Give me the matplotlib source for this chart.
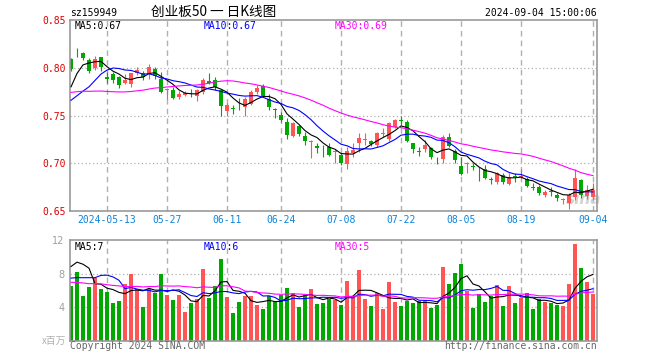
import matplotlib
matplotlib.use("Agg")
import matplotlib.pyplot as plt
import numpy as np
import pandas as pd

plt.rcParams['font.family'] = ['DejaVu Sans Mono']

code = "sz159949"
title = "创业板50 一 日K线图"
stamp = "2024-09-04 15:00:06"

# daily candles, 2024-04-30 .. 2024-09-04
opens = [0.809, 0.817, 0.815, 0.808, 0.800, 0.811, 0.790, 0.793, 0.7905, 0.784,
         0.783, 0.794, 0.794, 0.793, 0.799, 0.788, 0.777, 0.777, 0.769, 0.771,
         0.773, 0.770, 0.775, 0.786, 0.787, 0.777, 0.755, 0.757, 0.759, 0.759,
         0.7625, 0.775, 0.781, 0.767, 0.756, 0.750, 0.743, 0.7285, 0.739, 0.7285,
         0.722, 0.718, 0.715, 0.7165, 0.712, 0.7085, 0.699, 0.711, 0.7215, 0.7245,
         0.7235, 0.719, 0.731, 0.725, 0.7375, 0.745, 0.7435, 0.721, 0.7125, 0.7145,
         0.7155, 0.7035, 0.704, 0.728, 0.713, 0.697, 0.699, 0.6965, 0.693, 0.6945,
         0.683, 0.6805, 0.6875, 0.678, 0.686, 0.6855, 0.684, 0.675, 0.6755, 0.667,
         0.6705, 0.667, 0.662, 0.6585, 0.665, 0.6825, 0.6655, 0.665]
highs = [0.810, 0.821, 0.8165, 0.810, 0.812, 0.8115, 0.796, 0.796, 0.791, 0.7935,
         0.795, 0.801, 0.797, 0.8035, 0.801, 0.796, 0.7785, 0.780, 0.776, 0.776,
         0.778, 0.778, 0.789, 0.794, 0.7905, 0.778, 0.763, 0.761, 0.768, 0.769,
         0.777, 0.782, 0.783, 0.773, 0.7575, 0.754, 0.747, 0.7435, 0.740, 0.733,
         0.7245, 0.7215, 0.719, 0.7215, 0.7145, 0.7105, 0.7175, 0.7215, 0.7315, 0.7315,
         0.7245, 0.733, 0.7365, 0.7435, 0.746, 0.7495, 0.7455, 0.721, 0.7175, 0.7245,
         0.7165, 0.707, 0.7295, 0.7315, 0.7145, 0.707, 0.7015, 0.700, 0.6965, 0.698,
         0.686, 0.691, 0.690, 0.690, 0.6895, 0.6935, 0.686, 0.679, 0.677, 0.6725,
         0.675, 0.6685, 0.6635, 0.6685, 0.6935, 0.683, 0.677, 0.679]
lows = [0.797, 0.8115, 0.808, 0.795, 0.798, 0.797, 0.784, 0.784, 0.779, 0.7825,
        0.780, 0.7925, 0.787, 0.788, 0.788, 0.774, 0.767, 0.767, 0.767, 0.770,
        0.769, 0.7655, 0.773, 0.783, 0.777, 0.7495, 0.7495, 0.752, 0.756, 0.749,
        0.761, 0.773, 0.769, 0.756, 0.747, 0.743, 0.725, 0.728, 0.7285, 0.719,
        0.705, 0.711, 0.707, 0.7075, 0.700, 0.698, 0.6945, 0.707, 0.712, 0.719,
        0.718, 0.7175, 0.728, 0.7235, 0.7365, 0.740, 0.7225, 0.7105, 0.7075, 0.712,
        0.704, 0.6995, 0.700, 0.7165, 0.700, 0.688, 0.6895, 0.693, 0.681, 0.684,
        0.678, 0.678, 0.678, 0.677, 0.680, 0.683, 0.675, 0.6715, 0.6665, 0.665,
        0.6655, 0.660, 0.6575, 0.652, 0.6615, 0.664, 0.663, 0.663]
closes = [0.799, 0.816, 0.8105, 0.797, 0.809, 0.801, 0.788, 0.787, 0.782, 0.787,
          0.794, 0.798, 0.790, 0.801, 0.791, 0.775, 0.778, 0.768, 0.772, 0.774,
          0.772, 0.777, 0.787, 0.784, 0.780, 0.760, 0.761, 0.7565, 0.7585, 0.767,
          0.775, 0.779, 0.770, 0.7585, 0.7555, 0.745, 0.7295, 0.7425, 0.7305, 0.7235,
          0.7225, 0.7155, 0.7145, 0.7085, 0.7125, 0.700, 0.713, 0.714, 0.726, 0.725,
          0.720, 0.732, 0.7315, 0.7425, 0.745, 0.7445, 0.7235, 0.7145, 0.712, 0.719,
          0.707, 0.703, 0.728, 0.718, 0.7035, 0.689, 0.6995, 0.696, 0.6925, 0.685,
          0.6825, 0.6895, 0.6805, 0.686, 0.6855, 0.686, 0.676, 0.6745, 0.669, 0.670,
          0.670, 0.664, 0.6625, 0.667, 0.685, 0.667, 0.6725, 0.6725]
volumes = [6.55, 8.2, 5.35, 6.45, 7.52, 6.2, 5.85, 4.53, 4.77, 6.8,
           8.0, 6.2, 4.05, 6.23, 5.72, 8.0, 5.48, 4.88, 5.48, 3.46,
           4.53, 5.02, 8.6, 5.12, 6.55, 9.78, 5.27, 3.33, 4.63, 5.35,
           5.35, 4.28, 3.8, 5.35, 4.63, 5.46, 6.3, 5.7, 4.04, 5.46,
           6.18, 4.4, 4.51, 5.0, 4.87, 4.28, 7.13, 5.35, 8.43, 4.99,
           4.16, 5.7, 3.8, 7.0, 4.63, 4.16, 4.75, 4.51, 4.75, 4.75,
           3.92, 4.28, 8.79, 6.77, 8.08, 9.15, 5.94, 3.92, 5.58, 4.63,
           5.35, 6.65, 4.16, 6.53, 4.51, 5.1, 5.7, 3.8, 4.99, 4.63,
           4.51, 4.28, 4.16, 6.77, 11.52, 8.67, 7.0, 5.58]

# the 29 sessions before the window (not drawn, only feed the moving averages)
prev_close = [0.792, 0.796, 0.800, 0.803, 0.798, 0.801, 0.795, 0.790, 0.785, 0.782,
              0.776, 0.770, 0.765, 0.760, 0.762, 0.758, 0.752, 0.755, 0.760, 0.765,
              0.768, 0.762, 0.752, 0.742, 0.735, 0.746, 0.7656, 0.787, 0.8025]
prev_vol = [8.5, 7.2, 9.1, 6.8, 7.5, 8.9, 7.0, 6.6, 9.4, 8.0,
            5.2, 6.1, 4.8, 5.9, 5.0, 6.3, 5.4, 4.7, 6.0, 5.9,
            7.7, 5.4, 6.4, 7.5, 3.5, 5.6, 6.6, 8.8, 16.7]

tick_pos = [6, 16, 26, 35, 45, 55, 65, 75, 87]
tick_labels = ["2024-05-13", "05-27", "06-11", "06-24", "07-08",
               "07-22", "08-05", "08-19", "09-04"]
price_ticks = [0.65, 0.70, 0.75, 0.80, 0.85]
vol_ticks = [4, 8, 12]

RED = '#ff5555'
GREEN = '#00a800'
GRID = '#b0b0b0'
MA_COLORS = {5: 'black', 10: '#0000ff', 30: '#ff00ff'}

W, H = 660, 360
fig = plt.figure(figsize=(W / 100, H / 100), dpi=100)


def px_axes(l, t, r, b):
    return fig.add_axes([l / W, 1 - b / H, (r - l) / W, (b - t) / H])


def px_text(x, y, s, **kw):
    kw.setdefault('va', 'center')
    kw.setdefault('fontsize', 7)
    fig.text(x / W, 1 - y / H, s, **kw)


ax = px_axes(70, 20, 597, 211)
axv = px_axes(70, 240, 597, 341)

n = len(closes)
x = np.arange(n)
o = np.array(opens)
c = np.array(closes)
up = c >= o
col = np.where(up, RED, GREEN)

# candles
ax.vlines(x, lows, highs, colors=col, lw=0.8, zorder=2)
ax.bar(x, np.maximum(np.abs(c - o), 0.0009), 0.7, bottom=np.minimum(o, c),
       color=col, linewidth=0, zorder=2)

close_all = pd.Series(prev_close + closes)
vol_all = pd.Series(prev_vol + volumes)
k0 = len(prev_close)
for k, mc in MA_COLORS.items():
    ax.plot(x, close_all.rolling(k).mean().to_numpy()[k0:], color=mc, lw=0.8, zorder=3)
    axv.plot(x, vol_all.rolling(k).mean().to_numpy()[k0:], color=mc, lw=0.8, zorder=3)

# volume bars
axv.bar(x, volumes, 0.82, color=col, linewidth=0, zorder=2)

for a, lo, hi, hlines in [(ax, 0.65, 0.85, price_ticks[1:-1]), (axv, 0, 12, vol_ticks[:-1])]:
    a.set_xlim(-0.17, 87.67)
    a.set_ylim(lo, hi)
    for p in tick_pos:
        a.axvline(p, color=GRID, lw=1, ls=(0, (4, 3)), zorder=1)
    for h in hlines:
        a.axhline(h, color=GRID, lw=0.9, ls=(0, (1, 2)), zorder=1)
    for s in a.spines.values():
        s.set_color('#999999')
        s.set_linewidth(1.2)

ax.set_yticks(price_ticks)
ax.set_yticklabels([f"{p:.2f}" for p in price_ticks])
ax.set_xticks(tick_pos)
ax.set_xticklabels(tick_labels)
ax.tick_params(axis='y', length=0, pad=3, labelcolor='#e00000', labelsize=7)
ax.tick_params(axis='x', length=0, pad=3, labelcolor='#0a84dc', labelsize=7)

axv.set_yticks(vol_ticks)
axv.set_yticklabels([str(v) for v in vol_ticks])
axv.set_xticks([])
axv.tick_params(axis='y', length=0, pad=4, labelcolor='#a0a0a0', labelsize=7)
for t in axv.get_yticklabels():
    t.set_fontfamily('DejaVu Sans')

ax.text(0.975, 0.06, "sina", transform=ax.transAxes, ha='center', va='center',
        fontsize=11, style='italic', weight='bold', color='#d4d4d4',
        family='DejaVu Sans', zorder=0)

# header
px_text(70, 13, code, ha='left')
px_text(214, 12, title, ha='center', fontsize=9.8,
        family=['Noto Sans CJK SC', 'DejaVu Sans'])
px_text(597, 13, stamp, ha='right')

# legends
px_text(75, 26, "MA5:0.67", color='black')
px_text(204, 26, "MA10:0.67", color='#0000ff')
px_text(335, 26, "MA30:0.69", color='#ff00ff')
px_text(75, 247, "MA5:7", color='black')
px_text(204, 247, "MA10:6", color='#0000ff')
px_text(335, 247, "MA30:5", color='#ff00ff')

px_text(66, 341, "x百万", ha='right', color='#b0b0b0', fontsize=7,
        family=['Noto Sans CJK SC', 'DejaVu Sans'])
px_text(70, 346, "Copyright 2024 SINA.COM", ha='left', color='#666666')
px_text(597, 346, "http://finance.sina.com.cn", ha='right', color='#666666')

fig.savefig("out.png", dpi=100)
